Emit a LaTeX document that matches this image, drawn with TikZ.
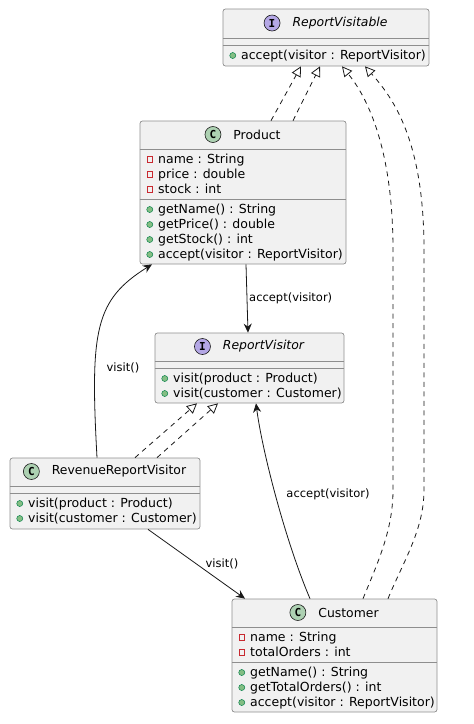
\documentclass[tikz,border=0pt]{standalone}
\usepackage{fontspec}
\setmainfont{DejaVu Sans}
\newfontfamily\iconfont{DejaVu Sans Mono}
\usetikzlibrary{arrows.meta,positioning}

\definecolor{boxfill}{HTML}{F1F1F1}
\definecolor{boxline}{HTML}{8E8E8E}
\definecolor{classicon}{HTML}{ADD1B2}
\definecolor{ifaceicon}{HTML}{B4A7E5}
\definecolor{privline}{HTML}{C82930}
\definecolor{pubfill}{HTML}{84BE84}
\definecolor{publine}{HTML}{038048}
\definecolor{inkline}{HTML}{181818}

\begin{document}
\begin{tikzpicture}[x=1pt,y=-1pt]

\tikzstyle{classbox}=[draw=boxline,fill=boxfill,line width=0.7pt,rounded corners=2.5pt,inner sep=0pt]
\tikzstyle{classname}=[inner sep=0pt,font=\fontsize{12.4}{14}\selectfont]
\tikzstyle{kindicon}=[circle,draw=inkline,line width=0.6pt,minimum size=16pt,inner sep=0pt,font=\iconfont\bfseries\fontsize{11}{11}\selectfont]
\tikzstyle{member}=[anchor=west,inner sep=0pt,text height=9pt,text depth=2pt,font=\fontsize{12.5}{14}\selectfont]
\tikzstyle{privmark}=[draw=privline,line width=0.6pt,minimum size=5.5pt,inner sep=0pt]
\tikzstyle{pubmark}=[circle,draw=publine,fill=pubfill,line width=0.5pt,minimum size=6pt,inner sep=0pt]
\tikzstyle{privitem}=[member,label={[privmark,label distance=5pt]left:{}}]
\tikzstyle{pubitem}=[member,label={[pubmark,label distance=5pt]left:{}}]
\tikzstyle{sep}=[draw=boxline,line width=0.7pt]
\tikzstyle{uses}=[draw=inkline,line width=0.8pt,-{Stealth[length=9pt,width=8pt]}]
\tikzstyle{realizes}=[draw=inkline,line width=0.8pt,dash pattern=on 5pt off 4.5pt,-{Triangle[open,length=10pt,width=10pt,fill=white]}]
\tikzstyle{msg}=[inner sep=0pt,font=\fontsize{11.5}{13}\selectfont]

\useasboundingbox (0,0) rectangle (474,724);

%% ReportVisitable
\node [classbox,minimum width=206pt,minimum height=57pt] (visitable) at (326,37.5) {};
\node [classname,font=\fontsize{12.4}{14}\selectfont\itshape] (visitable-t) at (340,23) {ReportVisitable};
\node [kindicon,fill=ifaceicon,left=12pt of visitable-t] (visitable-i) {I};
\draw [sep] (visitable.west |- 0,38) -- (visitable.east |- 0,38);
\draw [sep] (visitable.west |- 0,45) -- (visitable.east |- 0,45);
\node [pubitem] (visitable-m1) at (241,55.5) {accept(visitor : ReportVisitor)};

%% Product
\node [classbox,minimum width=206pt,minimum height=143pt] (product) at (243,192.5) {};
\node [classname] (product-t) at (257,134.5) {Product};
\node [kindicon,fill=classicon,left=12pt of product-t] (product-i) {C};
\draw [sep] (product.west |- 0,149) -- (product.east |- 0,149);
\node [privitem] (product-a1) at (158,159.5) {name : String};
\node [privitem] (product-a2) at (158,174.5) {price : double};
\node [privitem] (product-a3) at (158,189.5) {stock : int};
\draw [sep] (product.west |- 0,199) -- (product.east |- 0,199);
\node [pubitem] (product-m1) at (158,209.5) {getName() : String};
\node [pubitem] (product-m2) at (158,224.5) {getPrice() : double};
\node [pubitem] (product-m3) at (158,239.5) {getStock() : int};
\node [pubitem] (product-m4) at (158,254.5) {accept(visitor : ReportVisitor)};

%% ReportVisitor
\node [classbox,minimum width=189pt,minimum height=70pt] (visitor) at (249.5,368) {};
\node [classname,font=\fontsize{12.4}{14}\selectfont\itshape] (visitor-t) at (263.5,346.5) {ReportVisitor};
\node [kindicon,fill=ifaceicon,left=12pt of visitor-t] (visitor-i) {I};
\draw [sep] (visitor.west |- 0,361) -- (visitor.east |- 0,361);
\draw [sep] (visitor.west |- 0,368) -- (visitor.east |- 0,368);
\node [pubitem] (visitor-m1) at (173,378.5) {visit(product : Product)};
\node [pubitem] (visitor-m2) at (173,393.5) {visit(customer : Customer)};

%% RevenueReportVisitor
\node [classbox,minimum width=190pt,minimum height=71pt] (revenue) at (105,493.5) {};
\node [classname] (revenue-t) at (119,471.5) {RevenueReportVisitor};
\node [kindicon,fill=classicon,left=12pt of revenue-t] (revenue-i) {C};
\draw [sep] (revenue.west |- 0,486) -- (revenue.east |- 0,486);
\draw [sep] (revenue.west |- 0,493) -- (revenue.east |- 0,493);
\node [pubitem] (revenue-m1) at (28,503.5) {visit(product : Product)};
\node [pubitem] (revenue-m2) at (28,518.5) {visit(customer : Customer)};

%% Customer
\node [classbox,minimum width=205pt,minimum height=113pt] (customer) at (334.5,655.5) {};
\node [classname] (customer-t) at (348.5,612.5) {Customer};
\node [kindicon,fill=classicon,left=12pt of customer-t] (customer-i) {C};
\draw [sep] (customer.west |- 0,627) -- (customer.east |- 0,627);
\node [privitem] (customer-a1) at (250,637.5) {name : String};
\node [privitem] (customer-a2) at (250,652.5) {totalOrders : int};
\draw [sep] (customer.west |- 0,662) -- (customer.east |- 0,662);
\node [pubitem] (customer-m1) at (250,672.5) {getName() : String};
\node [pubitem] (customer-m2) at (250,687.5) {getTotalOrders() : int};
\node [pubitem] (customer-m3) at (250,702.5) {accept(visitor : ReportVisitor)};

%% realizations
\draw [realizes] ([xshift=28pt]product.north) -- ([xshift=-25pt]visitable.south);
\draw [realizes] ([xshift=50pt]product.north) -- ([xshift=-6pt]visitable.south);
\draw [realizes] ([xshift=28.5pt]customer.north) .. controls (378,562) and (393,530) .. (393,490)
    -- (393,250) .. controls (393,150) and (368,98) .. ([xshift=16pt]visitable.south);
\draw [realizes] ([xshift=53.5pt]customer.north) .. controls (403,562) and (424,530) .. (424,490)
    -- (424,250) .. controls (424,140) and (393,98) .. ([xshift=39pt]visitable.south);
\draw [realizes] ([xshift=30pt]revenue.north) -- ([xshift=-52.5pt]visitor.south);
\draw [realizes] ([xshift=52pt]revenue.north) -- ([xshift=-31.5pt]visitor.south);

%% calls
\draw [uses] ([xshift=3pt]product.south) -- ([xshift=-1.5pt]visitor.north);
\node [msg,anchor=west] (accept-1) at (249,298) {accept(visitor)};
\draw [uses] ([xshift=-8pt]revenue.north) .. controls (90,330) and (95,300) .. ([xshift=-91pt]product.south);
\node [msg] (visit-1) at (123,368) {visit()};
\draw [uses] ([xshift=43pt]revenue.south) -- ([xshift=-89.5pt]customer.north);
\node [msg] (visit-2) at (222,564) {visit()};
\draw [uses] ([xshift=-24.5pt]customer.north) .. controls (285,540) and (262,450) .. ([xshift=6.5pt]visitor.south);
\node [msg] (accept-2) at (328,494) {accept(visitor)};

\end{tikzpicture}
\end{document}
